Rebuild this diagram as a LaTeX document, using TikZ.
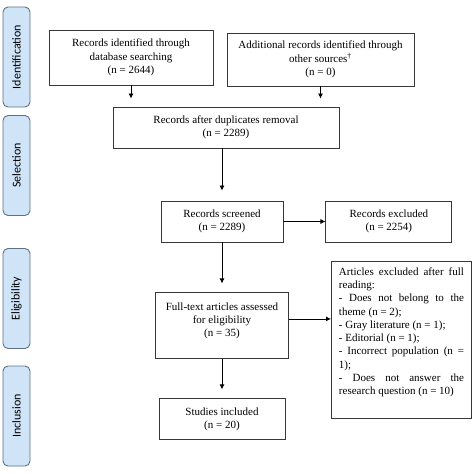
\documentclass[tikz,border=0pt]{standalone}
\usepackage{fontspec}
\setmainfont{Liberation Serif}
\newfontfamily\barfont{Carlito}
\usetikzlibrary{positioning, arrows.meta}

\definecolor{barfill}{HTML}{CFE4F7}
\definecolor{barline}{HTML}{5E7286}
\definecolor{boxline}{HTML}{383838}

\begin{document}
\begin{tikzpicture}[x=1pt, y=-1pt,
	stagebar/.style={draw=barline, fill=barfill, rounded corners=5pt, line width=0.9pt, rotate=90,
		minimum width=100pt, minimum height=27pt, inner sep=0pt, font=\barfont\fontsize{12}{14}\selectfont},
	recbox/.style={draw=boxline, line width=0.9pt, align=center, inner sep=2pt, font=\fontsize{11}{13.3}\selectfont},
	flow/.style={->, line width=0.8pt, >={Latex[length=5pt,width=5pt]}}]
	\useasboundingbox (0,0) rectangle (474,474);

	% stages
	\node[stagebar] (idbar) at (16.5,57) {Identification};
	\node[stagebar] (selbar) at (16.5,165.5) {Selection};
	\node[stagebar] (eligbar) at (16.5,298.5) {Eligibility};
	\node[stagebar] (inclbar) at (16.5,416) {Inclusion};

	% records
	\node[recbox, minimum width=164pt, minimum height=55pt] (dbrec) at (131,57.5) {Records identified through\\database searching\\(n = 2644)};
	\node[recbox, minimum width=187pt, minimum height=53pt] (otherrec) at (320.5,59.5) {Additional records identified through\\other sources\textsuperscript{\dag}\\(n = 0)};
	\node[recbox, minimum width=226pt, minimum height=41pt] (dedup) at (226,127.5) {Records after duplicates removal\\(n = 2289)};
	\node[recbox, minimum width=122pt, minimum height=41pt] (screened) at (222,221.5) {Records screened\\(n = 2289)};
	\node[recbox, minimum width=126pt, minimum height=41pt, right=42pt of screened] (excluded) {Records excluded\\(n = 2254)};
	\node[recbox, minimum width=133pt, minimum height=66pt, below=50pt of screened] (fulltext) {Full-text articles assessed\\for eligibility\\(n = 35)\\[-1pt]\mbox{}};
	\node[recbox, minimum width=126pt, minimum height=41pt, below=39pt of fulltext] (included) {Studies included\\(n = 20)};
	\node[recbox, text width=125pt, align=justify, inner xsep=7.5pt, inner ysep=6pt, minimum height=154pt, anchor=north west] (fullexcl) at (331,261)
		{Articles excluded after full\linebreak reading:\\
		- Does not belong to the\linebreak theme (n = 2);\\
		- Gray literature (n = 1);\\
		- Editorial (n = 1);\\
		- Incorrect population (n =\linebreak 1);\\
		- Does not answer the\linebreak research question (n = 10)\\[4pt]\mbox{}};

	\draw[flow, shorten >=8pt] (dbrec.south) -- (dbrec.south |- dedup.north);
	\draw[flow, shorten >=8pt] (otherrec.south) -- (otherrec.south |- dedup.north);
	\draw[flow, shorten >=10pt] (screened.north |- dedup.south) -- (screened.north);
	\draw[flow] (screened) -- (excluded);
	\draw[flow, shorten >=9pt] (screened) -- (fulltext);
	\draw[flow] ([yshift=7pt]fulltext.east) -- ([yshift=7pt]fulltext.east -| fullexcl.west);
	\draw[flow, shorten >=9pt] (fulltext) -- (included);
\end{tikzpicture}
\end{document}
